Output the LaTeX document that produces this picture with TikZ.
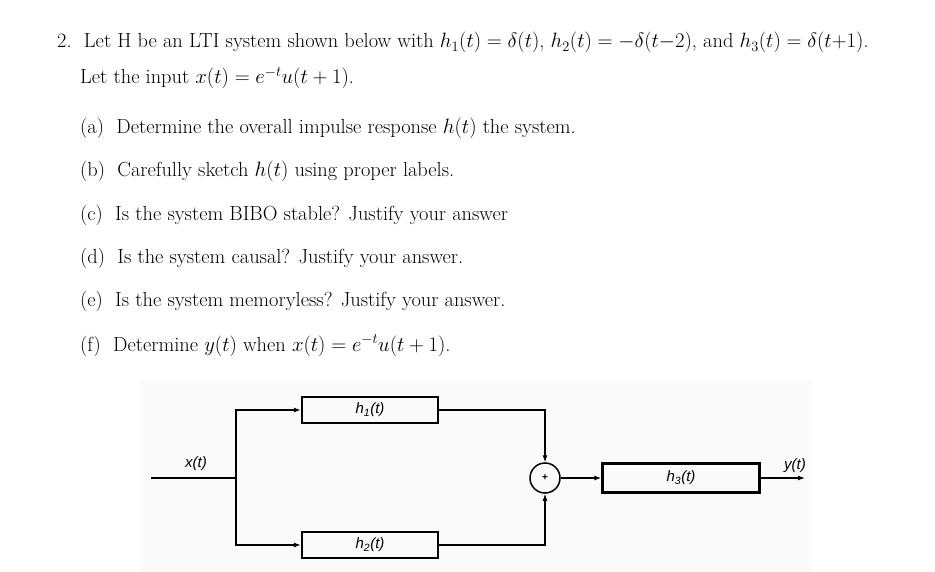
\documentclass[tikz,border=0pt]{standalone}
\usepackage{fontspec}
\newfontfamily\arialfont{Liberation Sans}
\usetikzlibrary{arrows.meta}
\begin{document}
\begin{tikzpicture}[x=1pt,y=-1pt,
  txt/.style={anchor=base west,inner sep=0pt,font=\fontsize{20.4}{24}\selectfont},
  blk/.style={draw,line width=2.4pt,minimum width=136pt,minimum height=26pt,inner sep=0pt,font=\arialfont\itshape\fontsize{15}{17}\selectfont},
  lbl/.style={font=\arialfont\itshape\fontsize{15}{17}\selectfont,inner sep=0pt},
  sig/.style={line width=1.2pt},
  arr/.style={sig,-{Latex[length=7pt,width=5pt]}}]
\useasboundingbox (0,0) rectangle (935,572);
\fill[black!2] (140,380) rectangle (812,572);
\node[txt] (l1) at (57,48) {2.\ \ Let H be an LTI system shown below with $h_1(t)=\delta(t)$, $h_2(t)=-\delta(t{-}2)$, and $h_3(t)=\delta(t{+}1)$.};
\node[txt] (l2) at (80,84) {Let the input $x(t)=e^{-t}u(t+1)$.};
\node[txt] (a) at (80,134) {(a)\ \ Determine the overall impulse response $h(t)$ the system.};
\node[txt] (b) at (80,177) {(b)\ \ Carefully sketch $h(t)$ using proper labels.};
\node[txt] (c) at (80,221) {(c)\ \ Is the system BIBO stable? Justify your answer};
\node[txt] (d) at (80,264) {(d)\ \ Is the system causal? Justify your answer.};
\node[txt] (e) at (80,307) {(e)\ \ Is the system memoryless? Justify your answer.};
\node[txt] (f) at (80,351) {(f)\ \ Determine $y(t)$ when $x(t)=e^{-t}u(t+1)$.};
\node[blk] (h1) at (370,410) {h\textsubscript{1}(t)};
\node[blk] (h2) at (370,545) {h\textsubscript{2}(t)};
\node[blk,minimum width=157pt,minimum height=29pt] (h3) at (681,478) {h\textsubscript{3}(t)};
\node[draw,sig,line width=1.5pt,circle,minimum size=30pt,inner sep=0pt,font=\arialfont\bfseries\fontsize{10}{11}\selectfont] (s) at (545,478) {+};
\coordinate (in) at (151,478);
\coordinate (j) at (236,478);
\coordinate (out) at (805,478);
\node[lbl] (xl) at (196,464) {x(t)};
\node[lbl] (yl) at (795,466) {y(t)};
\draw[sig] (in) -- (j);
\draw[arr] (j) |- (h1.west);
\draw[arr] (j) |- (h2.west);
\draw[arr] (h1.east) -| (s.north);
\draw[arr] (h2.east) -| (s.south);
\draw[arr] (s.east) -- (h3.west);
\draw[arr] (h3.east) -- (out);
\end{tikzpicture}
\end{document}
